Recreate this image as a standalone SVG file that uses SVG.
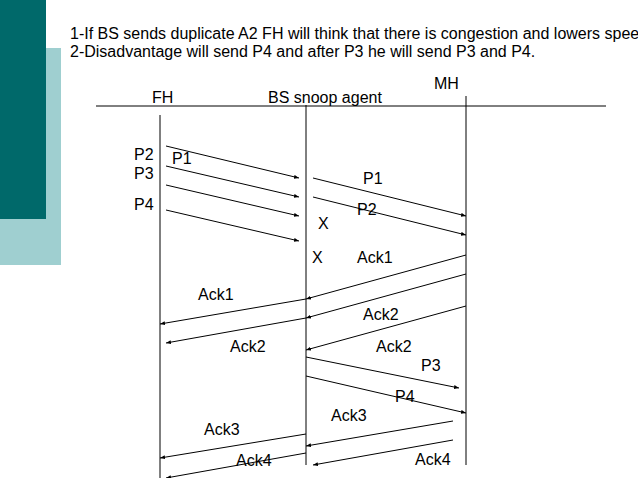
<svg xmlns="http://www.w3.org/2000/svg" width="638" height="478" viewBox="0 0 638 478">
<defs><marker id="a" viewBox="0 0 10 10" refX="10" refY="5" markerWidth="5" markerHeight="5" orient="auto"><path d="M0,1 L10,5 L0,9z" fill="#000"/></marker>
<style>text{font-family:"Liberation Sans",Arial,sans-serif;font-size:16px;fill:#000}.l{stroke:#000;stroke-width:1;fill:none}.c line{stroke:#000;stroke-width:1;marker-end:url(#a)}</style></defs>
<rect width="638" height="478" fill="#fff"/>
<rect x="0" y="48" width="61" height="217" fill="#9fcfd0"/>
<rect x="0" y="0" width="46" height="219" fill="#00696a"/>
<text x="70" y="39">1-If BS sends duplicate A2 FH will think that there is congestion and lowers speed</text>
<text x="70" y="57">2-Disadvantage will send P4 and after P3 he will send P3 and P4.</text>
<g id="FH"><line class="l" x1="160" y1="115" x2="160" y2="478"/><text x="152" y="103">FH</text></g>
<g id="BS"><line class="l" x1="306" y1="105" x2="306" y2="465"/><text x="268" y="103">BS snoop agent</text></g>
<g id="MH"><line class="l" x1="466" y1="96" x2="466" y2="465"/><text x="434" y="89">MH</text></g>
<line class="l" x1="96" y1="106" x2="606" y2="106"/>
<g class="c">
<line x1="166" y1="146" x2="299" y2="178"/><line x1="166" y1="166" x2="299" y2="197"/>
<line x1="166" y1="185" x2="299" y2="216"/><line x1="166" y1="210" x2="299" y2="241"/>
<line x1="313" y1="178" x2="466" y2="216"/><line x1="313" y1="197" x2="466" y2="235"/>
<line x1="466" y1="255" x2="306" y2="299"/><line x1="466" y1="274" x2="306" y2="318"/>
<line x1="466" y1="306" x2="306" y2="350"/>
<line x1="306" y1="299" x2="160" y2="324"/><line x1="306" y1="318" x2="166" y2="343"/>
<line x1="306" y1="357" x2="459" y2="388"/><line x1="306" y1="376" x2="466" y2="413"/>
<line x1="453" y1="421" x2="306" y2="446"/><line x1="453" y1="440" x2="313" y2="465"/>
<line x1="306" y1="434" x2="160" y2="458"/><line x1="306" y1="453" x2="166" y2="478"/>
</g>
<g id="labels">
<text x="134" y="160">P2</text><text x="172" y="164">P1</text><text x="134" y="179">P3</text><text x="134" y="210">P4</text>
<text x="363" y="184">P1</text><text x="357" y="215">P2</text><text x="318" y="229">X</text><text x="312" y="263">X</text>
<text x="357" y="263">Ack1</text><text x="198" y="300">Ack1</text><text x="363" y="320">Ack2</text>
<text x="230" y="352">Ack2</text><text x="376" y="352">Ack2</text><text x="421" y="371">P3</text>
<text x="395" y="402">P4</text><text x="331" y="421">Ack3</text><text x="204" y="435">Ack3</text>
<text x="236" y="466">Ack4</text><text x="415" y="465">Ack4</text>
</g>
</svg>
